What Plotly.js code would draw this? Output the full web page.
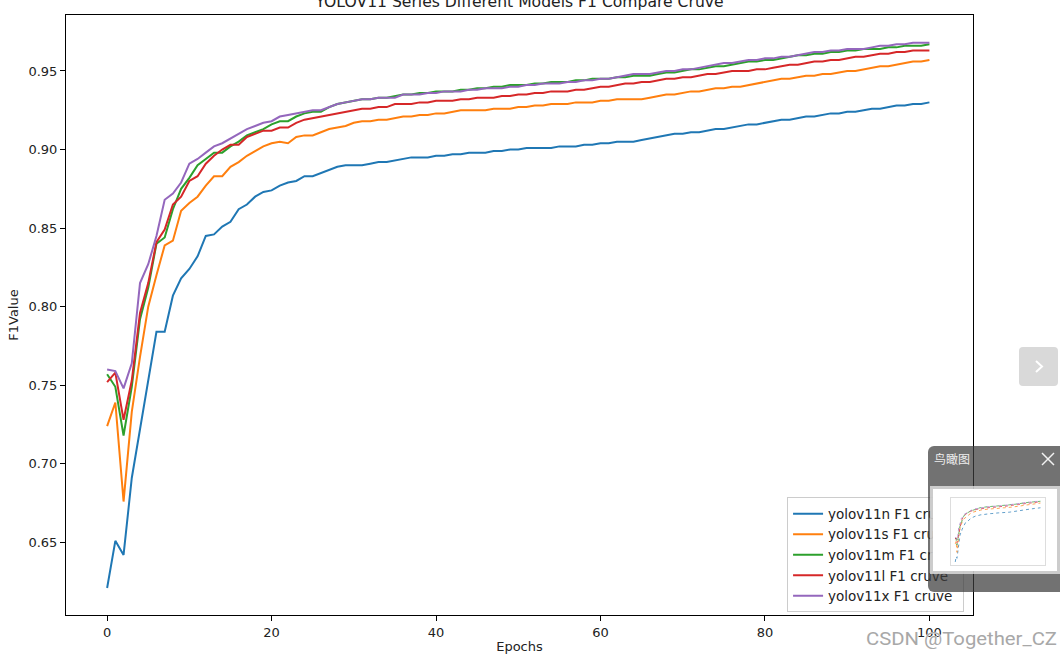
<!DOCTYPE html>
<html>
<head>
<meta charset="utf-8">
<script src="https://cdn.plot.ly/plotly-3.0.1.min.js"></script>
<style>
  html, body { margin:0; padding:0; background:#fff; }
  #wrap { position:relative; width:1060px; height:654px; overflow:hidden; }
  #chart { position:absolute; left:0; top:0; width:1060px; height:654px; }
  #popup { position:absolute; left:928px; top:446px; width:132px; height:146px;
           background:rgba(60,60,60,0.72); border-radius:6px 0 0 6px; }
  #popup .ttl { position:absolute; left:6px; top:4px; color:#eee; font-family:"Noto Sans CJK SC"; font-size:12px; }
  #popup .cls { position:absolute; left:113px; top:6px; }
  #thumbFrame { position:absolute; left:2px; top:40px; width:130px; height:88px; background:rgba(235,235,235,0.75); }
  #thumb { position:absolute; left:3px; top:3px; width:124px; height:82px; background:#fff; }
  #nextBtn { position:absolute; left:1019px; top:347px; width:39px; height:39px; background:#d9d9d9; border-radius:4px; }
  #wm { position:absolute; left:862px; top:624px; }
</style>
</head>
<body>
<div id="wrap">
  <div id="chart"></div>
  <div id="nextBtn"><svg width="39" height="39"><polyline points="17,14 23,19.5 17,25" fill="none" stroke="#fff" stroke-width="2"/></svg></div>
  <div id="popup">
    <div class="ttl">鸟瞰图</div>
    <div class="cls"><svg width="14" height="14"><line x1="1" y1="1" x2="13" y2="13" stroke="#f2f2f2" stroke-width="1.5"/><line x1="13" y1="1" x2="1" y2="13" stroke="#f2f2f2" stroke-width="1.5"/></svg></div>
    <div id="thumbFrame"><div id="thumb"></div></div>
  </div>
  <div id="wm"><svg width="200" height="30"><text x="4" y="21" textLength="191" lengthAdjust="spacingAndGlyphs" font-family="Roboto" font-size="19" fill="#a8a8a8" stroke="#fff" stroke-width="0.6" paint-order="stroke">CSDN @Together_CZ</text></svg></div>
</div>
<script>
const epochs = [0,1,2,3,4,5,6,7,8,9,10,11,12,13,14,15,16,17,18,19,20,21,22,23,24,25,26,27,28,29,30,31,32,33,34,35,36,37,38,39,40,41,42,43,44,45,46,47,48,49,50,51,52,53,54,55,56,57,58,59,60,61,62,63,64,65,66,67,68,69,70,71,72,73,74,75,76,77,78,79,80,81,82,83,84,85,86,87,88,89,90,91,92,93,94,95,96,97,98,99,100];

const seriesNames = ["yolov11n F1 cruve","yolov11s F1 cruve","yolov11m F1 cruve","yolov11l F1 cruve","yolov11x F1 cruve"];

const f1_n = [0.621,0.651,0.642,0.691,0.722,0.753,0.784,0.784,0.807,0.818,0.824,0.832,0.845,0.846,0.851,0.854,0.862,0.865,0.870,0.873,0.874,0.877,0.879,0.880,0.883,0.883,0.885,0.887,0.889,0.890,0.890,0.890,0.891,0.892,0.892,0.893,0.894,0.895,0.895,0.895,0.896,0.896,0.897,0.897,0.898,0.898,0.898,0.899,0.899,0.900,0.900,0.901,0.901,0.901,0.901,0.902,0.902,0.902,0.903,0.903,0.904,0.904,0.905,0.905,0.905,0.906,0.907,0.908,0.909,0.910,0.910,0.911,0.911,0.912,0.913,0.913,0.914,0.915,0.916,0.916,0.917,0.918,0.919,0.919,0.920,0.921,0.921,0.922,0.923,0.923,0.924,0.924,0.925,0.926,0.926,0.927,0.928,0.928,0.929,0.929,0.930];

const f1_s = [0.724,0.739,0.676,0.733,0.768,0.800,0.820,0.839,0.842,0.861,0.866,0.870,0.877,0.883,0.883,0.889,0.892,0.896,0.899,0.902,0.904,0.905,0.904,0.908,0.909,0.909,0.911,0.913,0.914,0.915,0.917,0.918,0.918,0.919,0.919,0.920,0.921,0.921,0.922,0.922,0.923,0.923,0.924,0.925,0.925,0.925,0.925,0.926,0.926,0.926,0.927,0.927,0.928,0.928,0.929,0.929,0.929,0.930,0.930,0.930,0.931,0.931,0.932,0.932,0.932,0.932,0.933,0.934,0.935,0.935,0.936,0.937,0.937,0.938,0.939,0.939,0.940,0.940,0.941,0.942,0.943,0.944,0.945,0.945,0.946,0.947,0.947,0.948,0.948,0.949,0.950,0.950,0.951,0.952,0.953,0.953,0.954,0.955,0.956,0.956,0.957];

const f1_m = [0.757,0.749,0.718,0.749,0.792,0.812,0.840,0.844,0.862,0.875,0.882,0.890,0.894,0.898,0.898,0.902,0.905,0.909,0.911,0.913,0.916,0.918,0.918,0.921,0.923,0.924,0.924,0.927,0.929,0.930,0.931,0.932,0.932,0.933,0.933,0.934,0.935,0.935,0.936,0.936,0.937,0.937,0.937,0.938,0.938,0.939,0.939,0.940,0.940,0.941,0.941,0.941,0.942,0.942,0.943,0.943,0.943,0.944,0.944,0.945,0.945,0.945,0.946,0.946,0.947,0.947,0.947,0.948,0.949,0.949,0.950,0.951,0.951,0.952,0.953,0.953,0.954,0.955,0.956,0.956,0.957,0.957,0.958,0.959,0.960,0.960,0.961,0.961,0.962,0.962,0.963,0.963,0.964,0.964,0.964,0.965,0.965,0.966,0.966,0.966,0.967];

const f1_l = [0.752,0.758,0.728,0.753,0.796,0.815,0.841,0.849,0.865,0.870,0.880,0.883,0.891,0.896,0.900,0.903,0.903,0.908,0.910,0.912,0.912,0.914,0.914,0.917,0.919,0.920,0.921,0.922,0.923,0.924,0.925,0.926,0.926,0.927,0.927,0.929,0.929,0.929,0.930,0.930,0.931,0.931,0.931,0.932,0.932,0.933,0.933,0.933,0.934,0.934,0.935,0.935,0.936,0.936,0.937,0.937,0.937,0.938,0.938,0.939,0.940,0.940,0.941,0.942,0.942,0.943,0.943,0.944,0.945,0.945,0.946,0.946,0.947,0.948,0.948,0.949,0.950,0.950,0.950,0.951,0.951,0.952,0.953,0.954,0.954,0.955,0.956,0.956,0.957,0.957,0.958,0.959,0.959,0.960,0.961,0.961,0.962,0.962,0.963,0.963,0.963];

const f1_x = [0.760,0.759,0.748,0.764,0.815,0.827,0.845,0.868,0.872,0.879,0.891,0.894,0.898,0.902,0.904,0.907,0.910,0.913,0.915,0.917,0.918,0.921,0.922,0.923,0.924,0.925,0.925,0.927,0.929,0.930,0.931,0.932,0.932,0.933,0.933,0.933,0.935,0.935,0.935,0.936,0.936,0.937,0.937,0.937,0.938,0.938,0.939,0.939,0.939,0.940,0.940,0.941,0.941,0.942,0.942,0.942,0.943,0.943,0.944,0.944,0.945,0.945,0.946,0.947,0.948,0.948,0.948,0.949,0.950,0.950,0.951,0.951,0.952,0.953,0.954,0.955,0.955,0.956,0.957,0.957,0.958,0.958,0.959,0.959,0.960,0.961,0.962,0.962,0.963,0.963,0.964,0.964,0.964,0.965,0.966,0.966,0.967,0.967,0.968,0.968,0.968];

const yTicks = [0.65,0.70,0.75,0.80,0.85,0.90,0.95];
const xTicks = [0,20,40,60,80,100];
const colors = ["#1f77b4","#ff7f0e","#2ca02c","#d62728","#9467bd"];
const allSeries = [f1_n, f1_s, f1_m, f1_l, f1_x];

const FONT = "DejaVu Sans";
const traces = allSeries.map((ys, i) => ({
  type: "scatter", mode: "lines", x: epochs, y: ys, name: seriesNames[i],
  legendgroup: "g" + i,
  line: { color: colors[i], width: 2 }
}));

const layout = {
  width: 1060, height: 654,
  margin: { l: 66, r: 87, t: 15, b: 39 },
  paper_bgcolor: "#fff", plot_bgcolor: "#fff",
  font: { family: FONT, size: 13, color: "#222" },
  title: { text: "YOLOV11 Series Different Models F1 Compare Cruve", font: { family: FONT, size: 15.6, color: "#222" },
           x: 0.5, xref: "paper", xanchor: "center", y: 0.997, yref: "container", yanchor: "middle" },
  xaxis: {
    range: [-5, 105.3], tickvals: xTicks, ticktext: xTicks.map(String),
    showgrid: false, zeroline: false, showline: true, linecolor: "#000", linewidth: 1, mirror: true,
    ticks: "outside", ticklen: 5, tickcolor: "#000", tickfont: { family: FONT, size: 13, color: "#222" },
    title: { text: "Epochs", font: { family: FONT, size: 13, color: "#222" }, standoff: 9 }
  },
  yaxis: {
    range: [0.6038, 0.9856], tickvals: yTicks, ticktext: yTicks.map(v => v.toFixed(2)),
    showgrid: false, zeroline: false, showline: true, linecolor: "#000", linewidth: 1, mirror: true,
    ticks: "outside", ticklen: 5, tickcolor: "#000", tickfont: { family: FONT, size: 13, color: "#222" },
    title: { text: "F1Value", font: { family: FONT, size: 13, color: "#222" }, standoff: 6 }
  },
  showlegend: true,
  legend: {
    x: 0.795, xanchor: "left", y: 0.196, yanchor: "top",
    bgcolor: "rgba(255,255,255,0.9)", bordercolor: "#cccccc", borderwidth: 1,
    font: { family: FONT, size: 13.5, color: "#222" },
    traceorder: "grouped", tracegroupgap: 0, itemwidth: 30
  }
};

Plotly.newPlot("chart", traces, layout, { displayModeBar: false, staticPlot: true });

// miniature preview inside the overlay panel
const thumbTraces = allSeries.map((ys, i) => ({
  type: "scatter", mode: "lines", x: epochs, y: ys, showlegend: false,
  line: { color: colors[i], width: 0.7, dash: "dot" }
}));
Plotly.newPlot("thumb", thumbTraces, {
  width: 124, height: 82,
  margin: { l: 18, r: 12, t: 9, b: 6 },
  paper_bgcolor: "#fff", plot_bgcolor: "#fff",
  xaxis: { range: [-5, 105.3], showgrid: false, zeroline: false, showline: true, linecolor: "#ddd", mirror: true, showticklabels: false, ticks: "" },
  yaxis: { range: [0.6038, 0.9856], showgrid: false, zeroline: false, showline: true, linecolor: "#ddd", mirror: true, showticklabels: false, ticks: "" }
}, { displayModeBar: false, staticPlot: true });
</script>
</body>
</html>
